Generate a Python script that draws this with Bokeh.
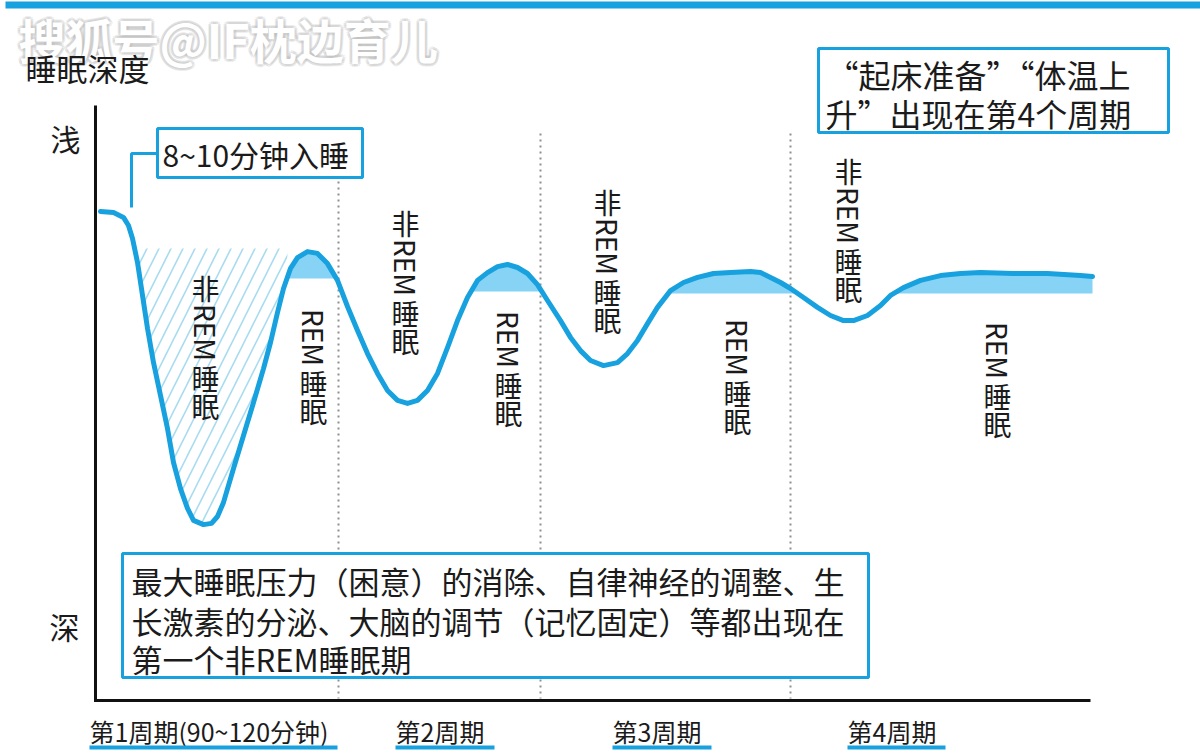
import numpy as np
from bokeh.plotting import figure
from bokeh.models import Range1d
from bokeh.core.properties import value
from bokeh.embed import file_html
from bokeh.resources import INLINE

# ---------------- data ----------------
# elapsed time since lights-off (minutes) and sleep depth (0 = shallow, larger = deeper)
time_min = [2.5, 9, 14, 16.5, 18.5, 21, 23.5, 26, 29, 32.5, 36, 39, 42.5, 46, 49, 54, 58, 61,
            64, 69, 74, 79, 84, 87.5, 91, 94, 97.5, 101, 106, 111, 116, 121, 126, 131, 136,
            141, 146, 151, 156, 161, 166, 171, 176, 181, 186, 191, 196, 201, 206, 211, 216,
            221, 226, 232.5, 237.5, 242.5, 247.5, 254, 261, 266, 271, 276, 281, 287.5, 294,
            301, 309, 317.5, 327.5, 332.5, 337.5, 342.5, 347.5, 354, 361, 367.5, 374, 379,
            386, 392.5, 397.5, 404, 412.5, 422.5, 432.5, 442.5, 459, 476, 492.5, 498.5]
depth = [0.3, 0.7, 2.3, 5, 9.3, 17.3, 28.3, 39.3, 50.7, 61.7, 72.7, 84, 92.7, 99.3, 103.3,
         104.7, 104.3, 102, 97.3, 86, 75, 64, 52.7, 44, 34, 26, 19.3, 15.7, 13.7, 14.3, 17.7,
         23.3, 32, 40, 47.7, 54.3, 60, 63.3, 64.3, 63.3, 60, 54.3, 45.7, 36.7, 29, 23.3,
         20.7, 18.7, 18, 19, 21, 24.7, 30, 36.7, 42.3, 46.7, 50, 51.7, 50.7, 47.7, 43.3,
         37.7, 32.3, 26.7, 24, 22.3, 21, 20.7, 20.3, 20.7, 22.3, 24, 26, 29, 32.3, 35,
         36.7, 36.7, 35, 31.7, 28.3, 25.7, 23.3, 21.7, 21, 20.7, 21, 21, 21.7, 22]
cycle_bounds = [121.5, 222.5, 347.5]            # ends of cycles 1-3 (minutes)
rem_base = [22.7, 27.0, 27.7, 27.7]             # depth level below which REM is shaded
nrem1_top = 12.7                                # top of the hatched first NREM period
cycle_labels = ["第1周期(90~120分钟)", "第2周期", "第3周期", "第4周期"]
stage_labels = ["非REM睡眠", "REM睡眠"] * 4
depth_labels = ["浅", "深"]
y_title = "睡眠深度"
note_onset = "8~10分钟入睡"
note_wake = ["“起床准备”“体温上", "升”出现在第4个周期"]
note_nrem = ["最大睡眠压力（困意）的消除、自律神经的调整、生",
             "长激素的分泌、大脑的调节（记忆固定）等都出现在",
             "第一个非REM睡眠期"]
watermark = "搜狐号@IF枕边育儿"

# ---------------- layout / style ----------------
W, H = 1200, 756
BLUE = "#17a1de"
LIGHT = "#86d3f5"
HATCH = "#a6dbf1"
INK = "#1b1b1b"
FONT = value("Noto Sans CJK SC")


def X(px):  # layout helper: page pixel -> data x
    return (px - 95) / 2.0


def Y(py):  # layout helper: page pixel -> data y
    return (py - 210) / 3.0


p = figure(width=W, height=H, x_range=Range1d(X(0), X(W)), y_range=Range1d(Y(H), Y(0)),
           output_backend="svg", toolbar_location=None, min_border=0,
           x_axis_location=None, y_axis_location=None,
           background_fill_color="white", border_fill_color="white")
p.grid.visible = False
p.outline_line_color = None

# top blue bar
p.quad(left=X(5), right=X(W), top=Y(1), bottom=Y(8), fill_color=BLUE, line_color=None)

# dotted cycle separators
p.segment(x0=cycle_bounds, y0=Y(133), x1=cycle_bounds, y1=Y(698),
          line_color="#8f8f8f", line_width=2, line_dash="2 4")

# fine sampling of the read curve (for shading only)
tt = np.linspace(time_min[0], time_min[-1], 3000)
dd = np.interp(tt, time_min, depth)

# REM shading
rem_windows = [(80, 135), (180, 235), (270, 360), (395, time_min[-1])]
for (a, b), base in zip(rem_windows, rem_base):
    m = (tt >= a) & (tt <= b) & (dd < base)
    p.varea(x=tt[m], y1=np.full(m.sum(), base), y2=dd[m], fill_color=LIGHT, fill_alpha=1)

# hatched first NREM
m = (tt >= 15) & (tt <= 96) & (dd > nrem1_top)
p.varea(x=tt[m], y1=np.full(m.sum(), nrem1_top), y2=dd[m], fill_alpha=0,
        hatch_pattern="/", hatch_color=HATCH, hatch_weight=1.6, hatch_scale=24)

# sleep depth curve
p.line(time_min, depth, line_color=BLUE, line_width=5, line_cap="round", line_join="round")

# axes
p.line([X(95), X(95), X(1090)], [Y(105), Y(700), Y(700)], line_color="#111111",
       line_width=3, line_join="miter")

# boxes
p.quad(left=[X(157), X(818), X(122)], right=[X(362), X(1168), X(868)],
       top=[Y(128), Y(48), Y(553)], bottom=[Y(177), Y(132), Y(677)],
       fill_color="white", line_color=BLUE, line_width=3)
p.line([X(157), X(131), X(131)], [Y(153), Y(153), Y(207)], line_color=BLUE, line_width=3)


def txt(xs, ys, texts, size, align="left", color=INK, style="normal", angle=0, alpha=1.0):
    p.text(x=[X(v) for v in xs], y=[Y(v) for v in ys], text=texts, text_font=FONT,
           text_font_size=value(f"{size}px"), text_align=align, text_baseline="middle",
           text_color=color, text_font_style=style, angle=angle, text_alpha=alpha)


# watermark with soft halo
for dx, dy in [(-3, 0), (3, 0), (0, -3), (0, 3), (-2, -2), (2, 2), (-2, 2), (2, -2)]:
    txt([18 + dx], [38 + dy], [watermark], 47, color="#b4b4b4", style="bold", alpha=0.22)
txt([18], [38], [watermark], 47, color="white", style="bold")

# titles / depth ends
txt([25], [67], [y_title], 31)
txt([65, 64], [137, 625], depth_labels, 30, align="center")

# notes
txt([162], [153], [note_onset], 30)
txt([826, 825], [73, 112], note_wake, 32)
txt([131, 131, 131], [580, 620, 658], note_nrem, 31)

# cycle labels with underline
lab_x = [89, 395, 612, 847]
lab_r = [337, 494, 711, 945]
txt(lab_x, [730] * 4, cycle_labels, 25)
p.segment(x0=[X(v) for v in lab_x], y0=Y(747), x1=[X(v) for v in lab_r], y1=Y(747),
          line_color=BLUE, line_width=4)

# vertical stage labels
FS_V = 28
LAT_LEN = 62
vpos = [(205, 273), (313, 306), (405, 208), (508, 308), (607, 187), (737, 316), (848, 156), (997, 319)]
up_x, up_y, up_t, rot_x, rot_y, rot_t = [], [], [], [], [], []
for lab, (cx, top) in zip(stage_labels, vpos):
    tokens = []
    buf = ""
    for ch in lab:
        if ch.isascii():
            buf += ch
        else:
            if buf:
                tokens.append(buf)
                buf = ""
            tokens.append(ch)
    if buf:
        tokens.append(buf)
    y = top
    for tk in tokens:
        if tk.isascii():
            rot_x.append(cx); rot_y.append(y + LAT_LEN / 2); rot_t.append(tk)
            y += LAT_LEN
        else:
            up_x.append(cx); up_y.append(y + FS_V / 2); up_t.append(tk)
            y += FS_V
txt(up_x, up_y, up_t, FS_V, align="center")
txt(rot_x, rot_y, rot_t, FS_V, align="center", angle=-np.pi / 2)

open("out.html", "w").write(file_html(p, INLINE))
